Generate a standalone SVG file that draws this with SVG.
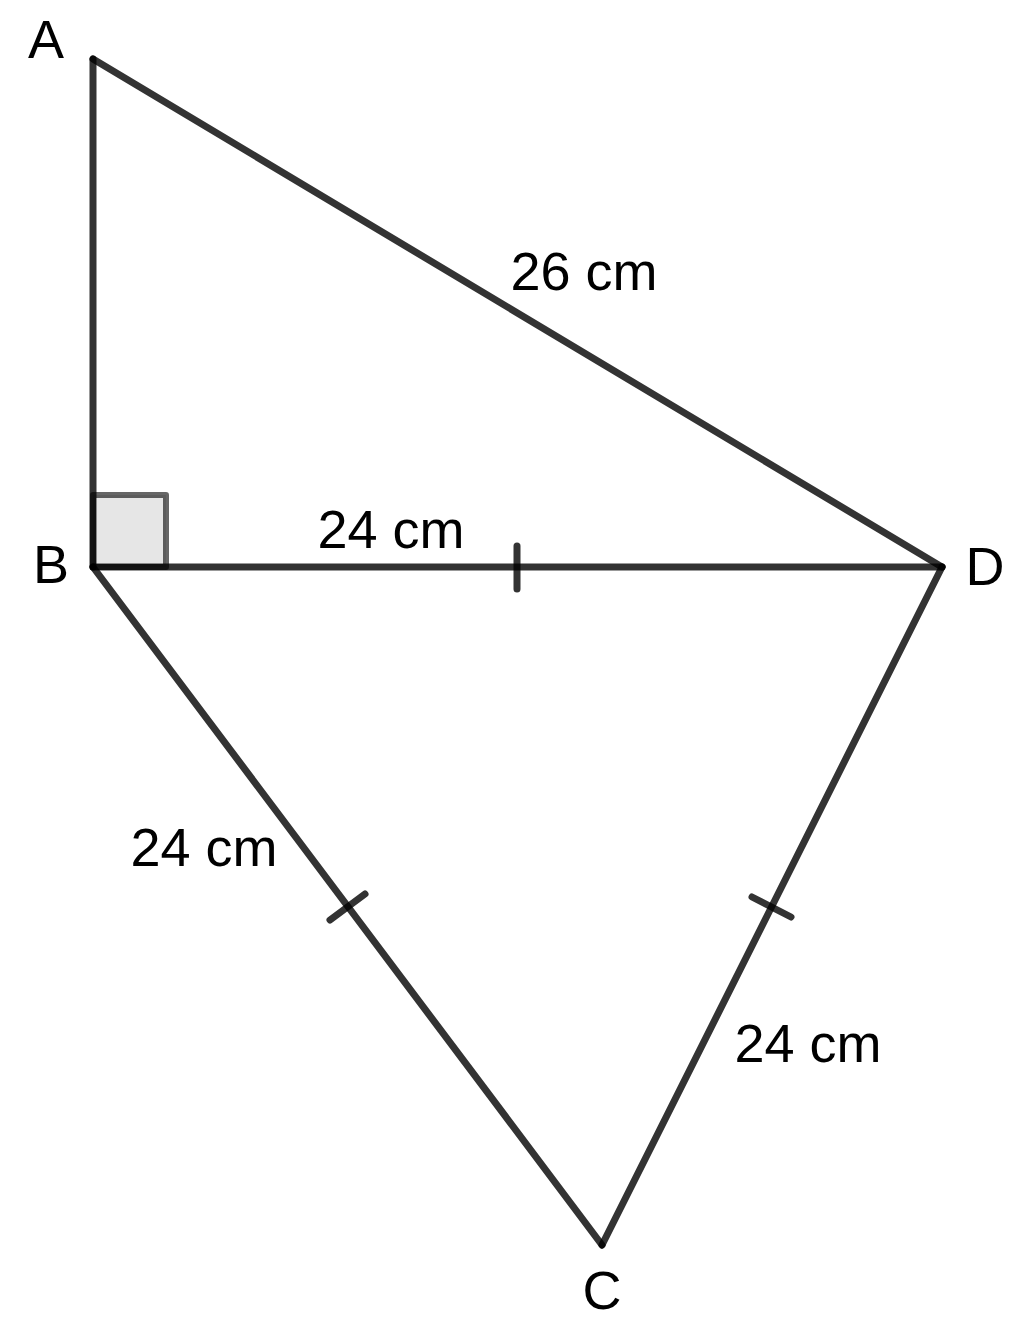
<svg xmlns="http://www.w3.org/2000/svg" width="1018" height="1332" viewBox="0 0 1018 1332">
<style>
.edge{stroke:#000;stroke-opacity:0.8;stroke-width:7;stroke-linecap:round;fill:none}
.lbl{font-family:"Liberation Sans",Arial,sans-serif;font-size:54px;fill:#000}
</style>
<rect width="1018" height="1332" fill="#fff"/>
<g id="right-angle">
<rect x="93" y="495" width="73" height="72" fill="#e6e6e6" stroke="#000" stroke-opacity="0.6" stroke-width="6" stroke-linejoin="round"/>
</g>
<g id="connectors">
<line class="edge" x1="93" y1="59" x2="93" y2="567"/>
<line class="edge" x1="93" y1="59" x2="942" y2="567"/>
<line class="edge" x1="93" y1="567" x2="942" y2="567"/>
<line class="edge" x1="93" y1="567" x2="602" y2="1245"/>
<line class="edge" x1="942" y1="567" x2="602" y2="1245"/>
<line class="edge" x1="517" y1="546" x2="517" y2="589"/>
<line class="edge" x1="330" y1="920" x2="365" y2="894"/>
<line class="edge" x1="752" y1="897" x2="791" y2="917"/>
</g>
<g id="A"><text class="lbl" x="46" y="58" text-anchor="middle">A</text></g>
<g id="B"><text class="lbl" x="51" y="583" text-anchor="middle">B</text></g>
<g id="D"><text class="lbl" x="985" y="585" text-anchor="middle">D</text></g>
<g id="C"><text class="lbl" x="602" y="1309" text-anchor="middle">C</text></g>
<g id="labels">
<text class="lbl" x="584" y="290" text-anchor="middle">26 cm</text>
<text class="lbl" x="391" y="548" text-anchor="middle">24 cm</text>
<text class="lbl" x="204" y="866" text-anchor="middle">24 cm</text>
<text class="lbl" x="808" y="1062" text-anchor="middle">24 cm</text>
</g>
</svg>
